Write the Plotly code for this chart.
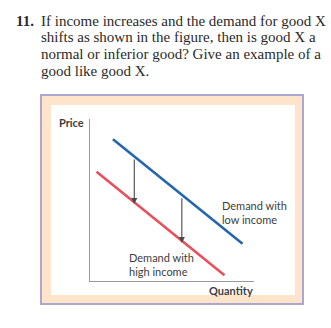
import plotly.graph_objects as go

W, H = 331, 328

# Demand curves (quantity, price) in axis units
low_income_q = [1.4, 9.3]
low_income_p = [8.75, 2.3]
high_income_q = [0.4, 8.2]
high_income_p = [6.75, 0.35]

# Downward shift arrows: quantity, price on low-income curve, price on high-income curve
shift_q = [2.7, 5.6]
shift_from_p = [7.6, 5.2]
shift_to_p = [4.75, 2.35]

question_lines = [
    "If income increases and the demand for good X",
    "shifts as shown in the figure, then is good X a",
    "normal or inferior good? Give an example of a",
    "good like good X.",
]

BLUE = "#2466b0"
RED = "#e8505b"
INK = "#3d3d3d"


def px(x):
    return x / W


def py(y):
    return 1 - y / H


fig = go.Figure()
fig.add_trace(go.Scatter(x=low_income_q, y=low_income_p, mode="lines",
                         line=dict(color=BLUE, width=2.6), hoverinfo="skip"))
fig.add_trace(go.Scatter(x=high_income_q, y=high_income_p, mode="lines",
                         line=dict(color=RED, width=2.6), hoverinfo="skip"))

annotations = []
for q, p0, p1 in zip(shift_q, shift_from_p, shift_to_p):
    annotations.append(dict(x=q, y=p1, ax=q, ay=p0, xref="x", yref="y",
                            axref="x", ayref="y", text="", showarrow=True,
                            arrowhead=2, arrowsize=1.1, arrowwidth=1.1,
                            arrowcolor="#4a4a4a", standoff=0, startstandoff=0))

label_font = dict(family="Lato, Open Sans, sans-serif", size=11, color=INK)
annotations += [
    dict(x=px(86), y=py(122), xref="paper", yref="paper", text="<b>Price</b>", showarrow=False,
         xanchor="right", yanchor="middle", font=label_font),
    dict(x=px(255), y=py(290), xref="paper", yref="paper", text="<b>Quantity</b>",
         showarrow=False, xanchor="right", yanchor="middle", font=label_font),
    dict(x=7.95, y=4.25, xref="x", yref="y", text="Demand with<br>low income",
         showarrow=False, xanchor="left", yanchor="middle", align="left", font=label_font),
    dict(x=2.25, y=1.0, xref="x", yref="y", text="Demand with<br>high income",
         showarrow=False, xanchor="left", yanchor="middle", align="left", font=label_font),
]

serif = dict(family="Liberation Serif, DejaVu Serif, serif", size=15, color="#2a2a2a")
annotations.append(dict(x=px(14), y=py(20.5), xref="paper", yref="paper", text="<b>11.</b>",
                        showarrow=False, xanchor="left", yanchor="middle", font=serif))
for i, line in enumerate(question_lines):
    annotations.append(dict(x=px(39), y=py(20.5 + i * 16.9), xref="paper", yref="paper",
                            text=line, showarrow=False, xanchor="left", yanchor="middle",
                            font=serif))

shapes = [
    dict(type="rect", xref="paper", yref="paper", x0=px(41), x1=px(303), y0=py(95), y1=py(304),
         fillcolor="#fde4cb", line=dict(color="#aca6d3", width=2), layer="below"),
    dict(type="rect", xref="paper", yref="paper", x0=px(51), x1=px(295), y0=py(105), y1=py(295),
         fillcolor="white", line=dict(width=0), layer="below"),
]

fig.update_layout(
    width=W, height=H, margin=dict(l=0, r=0, t=0, b=0),
    paper_bgcolor="white", plot_bgcolor="rgba(0,0,0,0)",
    showlegend=False, shapes=shapes, annotations=annotations,
    xaxis=dict(domain=[px(90), px(254)], range=[0, 10], showgrid=False, zeroline=False,
               showticklabels=False, ticks="", showline=True, linecolor="#9a9a9a",
               linewidth=1, fixedrange=True),
    yaxis=dict(domain=[py(281), py(119)], range=[0, 10], showgrid=False, zeroline=False,
               showticklabels=False, ticks="", showline=True, linecolor="#9a9a9a",
               linewidth=1, fixedrange=True),
)

fig.write_html("out.html", config=dict(displayModeBar=False))
